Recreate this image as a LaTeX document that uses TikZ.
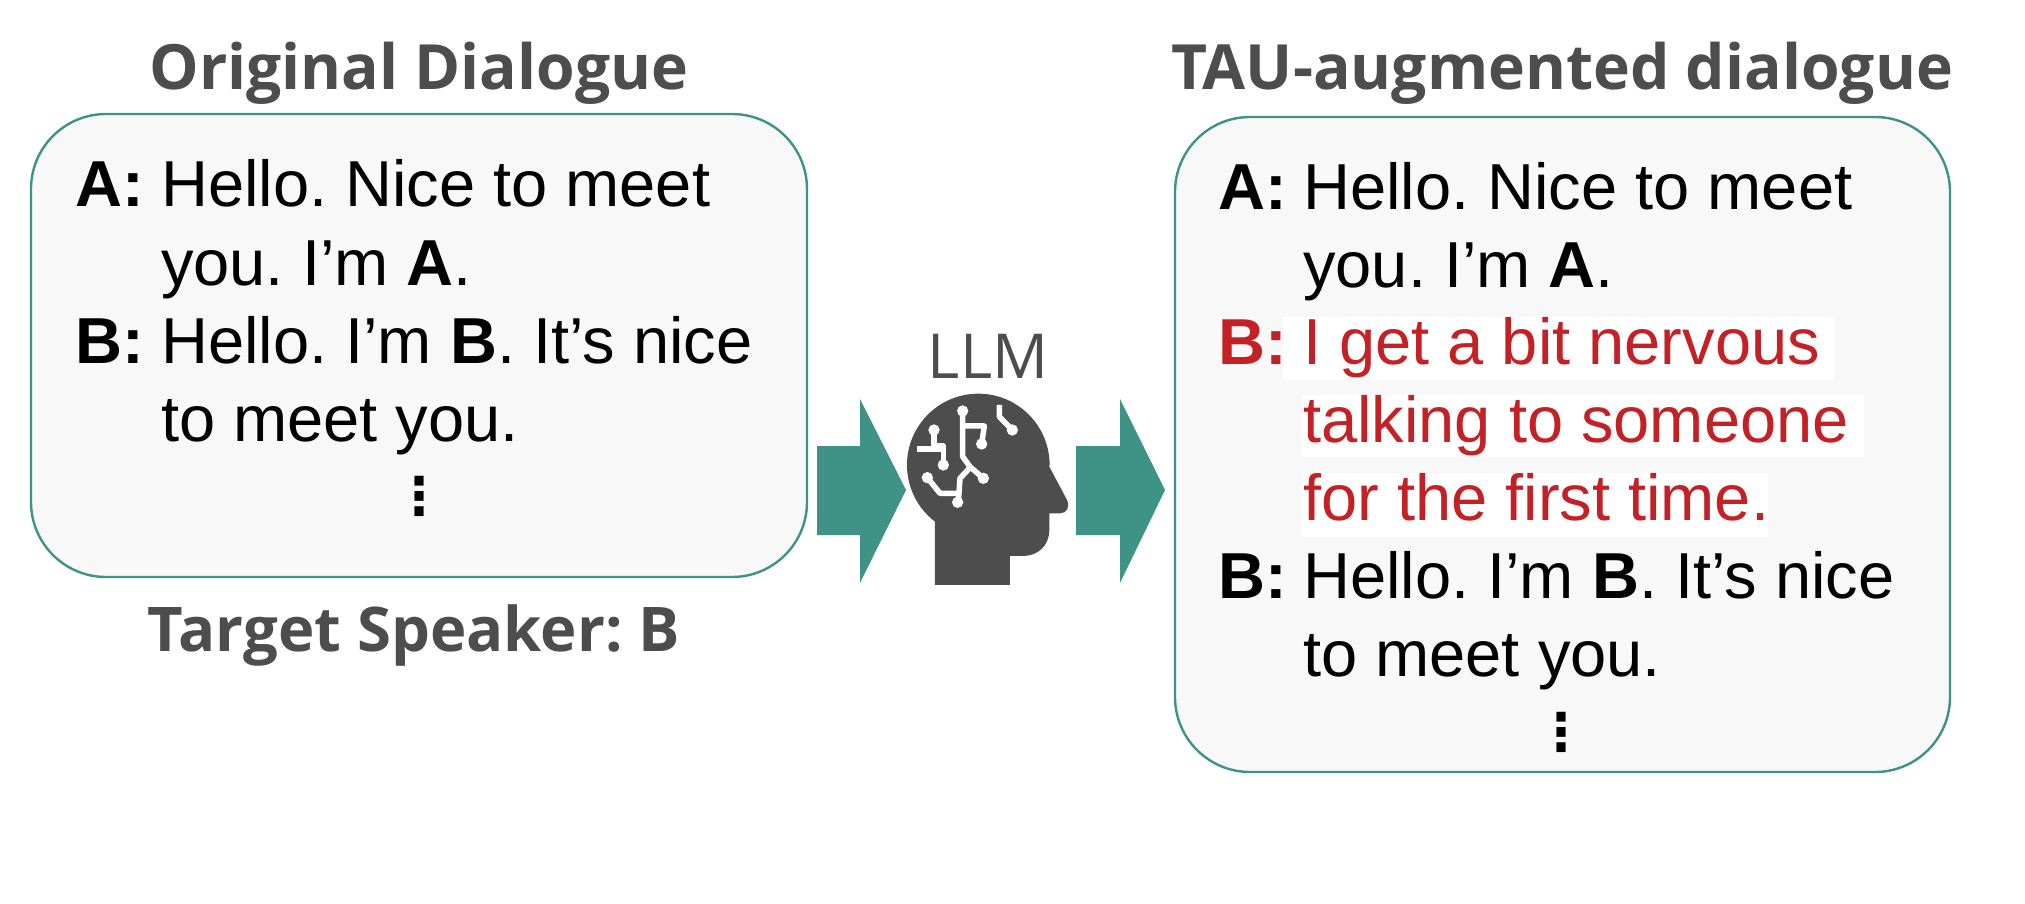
\documentclass[tikz,border=0pt]{standalone}
\usepackage{fontspec}
\setmainfont{Liberation Sans}
\newfontfamily\titlefont{Open Sans}
\newfontfamily\dotfont{DejaVu Sans}
\definecolor{teal}{HTML}{3F9286}
\definecolor{boxfill}{HTML}{F8F8F8}
\definecolor{redtxt}{HTML}{C42126}
\definecolor{graytxt}{HTML}{4D4D4D}
\tikzset{
  dlgbox/.style={draw=teal,line width=2.4pt,fill=boxfill,rounded corners=75pt},
  line/.style={anchor=base west,inner sep=0pt,font=\fontsize{65}{78}\selectfont},
  redline/.style={line,text=redtxt},
  heading/.style={anchor=base,inner sep=0pt,text=graytxt,font=\titlefont\bfseries\fontsize{62.4}{70}\selectfont},
  subheading/.style={heading,font=\titlefont\bfseries\fontsize{61.6}{70}\selectfont},
  llmlabel/.style={anchor=base,inner sep=0pt,text=graytxt,font=\titlefont\fontsize{62}{70}\selectfont},
  vdotsnode/.style={anchor=center,inner sep=0pt,font=\dotfont\bfseries\fontsize{52}{70}\selectfont},
  blockarrow/.style={fill=teal,draw=none},
  trace/.style={draw=white,line width=5.5pt,line join=round},
  tracedot/.style={fill=white,draw=none},
  patch/.style={fill=white,draw=none}
}
\begin{document}
\frenchspacing
\begin{tikzpicture}[x=1pt,y=-1pt]
\useasboundingbox (0,0) rectangle (2025,904);
% boxes
\draw[dlgbox] (31,114) rectangle (807,577);
\draw[dlgbox] (1175,117) rectangle (1950,772);
% highlight patches
\fill[patch] (1283,317) rectangle (1834,380);
\fill[patch] (1302,395) rectangle (1864,457);
\fill[patch] (1302,473) rectangle (1768,537);
% headings
\node[heading] (t1) at (419,89.5) {Original Dialogue};
\node[heading] (t2) at (1562,89.5) {TAU-augmented dialogue};
\node[subheading] (t3) at (414,651) {Target Speaker: B};
\node[llmlabel] (llm) at (988,378) {LLM};
% left text
\node[line] (l1s) at (75,207) {\bfseries A:};
\node[line] (l1) at (161,207) {Hello. Nice to meet};
\node[line] (l2) at (161,285) {you. I’m \textbf{A}.};
\node[line] (l3s) at (75,363) {\bfseries B:};
\node[line] (l3) at (161,363) {Hello. I’m \textbf{B}. It’s nice};
\node[line] (l4) at (161,441) {to meet you.};
\node[vdotsnode] (ld) at (419,496) {⋮};
% right text
\node[line] (r1s) at (1218,209) {\bfseries A:};
\node[line] (r1) at (1303,209) {Hello. Nice to meet};
\node[line] (r2) at (1303,287) {you. I’m \textbf{A}.};
\node[redline] (r3s) at (1218,364) {\bfseries B:};
\node[redline] (r3) at (1303,364) {I get a bit nervous};
\node[redline] (r4) at (1303,442) {talking to someone};
\node[redline] (r5) at (1303,520) {for the first time.};
\node[line] (r6s) at (1218,598) {\bfseries B:};
\node[line] (r6) at (1303,598) {Hello. I’m \textbf{B}. It’s nice};
\node[line] (r7) at (1303,676) {to meet you.};
\node[vdotsnode] (rd) at (1561,732) {⋮};
% arrows
\fill[blockarrow] (817,446) -- (860,446) -- (860,399) -- (906,490) -- (860,583) -- (860,535) -- (817,535) -- cycle;
\fill[blockarrow] (1076,446) -- (1120,446) -- (1120,399) -- (1165,490) -- (1120,583) -- (1120,535) -- (1076,535) -- cycle;
% head, drawn in zoom coordinates
\begin{scope}[shift={(800,300)},x=0.3333pt,y=-0.3333pt]
\fill[graytxt] (405,855) -- (405,665) arc[start angle=127.4,end angle=360,radius=214]
  -- (748,500) -- (800,598) .. controls (812,622) and (800,640) .. (780,640) -- (748,640) -- (748,690)
  .. controls (748,740) and (710,768) .. (670,768) -- (630,768) -- (630,855) -- cycle;
\draw[trace] (488,333) -- (488,470) -- (510,500) -- (550,535);
\draw[trace] (488,378) -- (553,378) -- (545,432);
\draw[trace] (510,503) -- (480,535) -- (475,607);
\draw[trace] (475,580) -- (420,580) -- (382,533);
\draw[trace] (402,390) -- (402,438) -- (430,438) -- (430,495);
\draw[trace] (350,447) -- (430,447);
\draw[trace] (598,315) -- (598,350) -- (637,390);
\foreach \p in {(488,333),(545,432),(550,535),(473,607),(382,533),(402,390),(430,495),(637,390)}
  \fill[tracedot] \p circle[radius=17];
\end{scope}
\end{tikzpicture}
\end{document}
